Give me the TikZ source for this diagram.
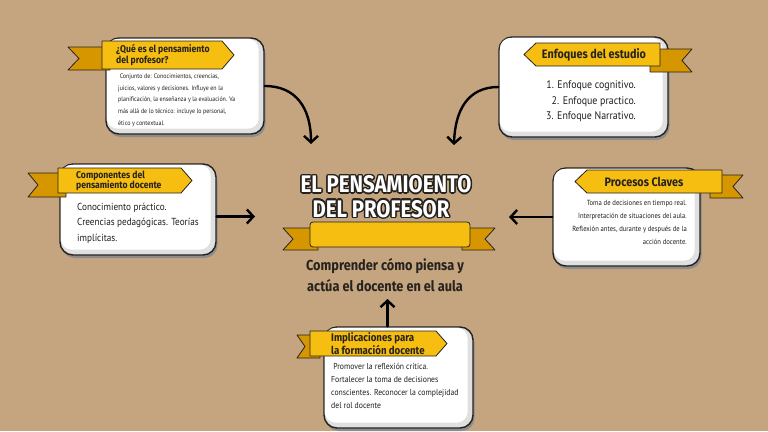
\documentclass[tikz,border=0pt]{standalone}
\usepackage{fontspec}
\setmainfont{PT Sans}
\newfontfamily\bodyfont[FakeStretch=0.9]{PT Sans}
\newfontfamily\headfont[FakeStretch=0.88]{Fira Sans}
\newfontfamily\titlefont[FakeStretch=0.85]{Fira Sans}
\usepackage[copies]{contour}
\contourlength{1.4pt}
\usetikzlibrary{arrows.meta,fit}
\definecolor{kraft}{RGB}{197,165,127}
\definecolor{ribbon}{RGB}{246,190,16}
\definecolor{ribbondark}{RGB}{214,150,0}
\definecolor{ink}{RGB}{38,34,30}
\definecolor{bodyink}{RGB}{30,30,30}
\tikzset{
  paper/.style={draw=ink, line width=1.4pt, fill=black!12, rounded corners=13pt, inner sep=0pt},
  ribbonbody/.style={fill=ribbon, draw=ink, line width=0.8pt, line join=round},
  ribbontail/.style={fill=ribbondark, draw=ink, line width=0.8pt, line join=round},
  headtxt/.style={text=ink, font=\headfont\bfseries\fontsize{9.8}{10.5}\selectfont, align=left, inner sep=0pt},
  bodytxt/.style={text=bodyink, inner sep=0pt},
  arr/.style={draw=black, line width=2.4pt, line cap=round, -{Straight Barb[length=6.5pt,width=14pt,line width=2.4pt]}},
}
\begin{document}
\begin{tikzpicture}[x=1pt,y=-1pt]
\fill[kraft] (0,0) rectangle (768,431);
\useasboundingbox (0,0) rectangle (768,431);

% ---------- boxes ----------
\foreach \nm/\xa/\ya/\xb/\yb in {b1/106/38/264/134, b2/499/37/668/137, b3/60/164/216/255, b4/553/168/700/266, b5/324/327/473/428}{
  \fill[black!45, rounded corners=13pt] (\xa+1.5,\ya+3) rectangle (\xb+1.5,\yb+3);
  \node[paper, fit={(\xa,\ya) (\xb,\yb)}] (\nm) {};
  \fill[white, rounded corners=11pt] ([shift={(1.5pt,-1.5pt)}]\nm.north west) rectangle ([shift={(-6pt,6pt)}]\nm.south east);
}

% ---------- ribbons ----------
% top-left
\draw[ribbontail] (68,47) -- (110,47) -- (110,70) -- (68,70) -- (79,58.5) -- cycle;
\draw[ribbonbody] (102,41) -- (222,41) -- (234,55) -- (222,69) -- (102,69) -- cycle;
\node[headtxt, anchor=west] (h1) at (116,55) {¿Qué es el pensamiento\\del profesor?};
% top-right
\draw[ribbontail] (650,49) -- (692,49) -- (682,60.5) -- (692,72) -- (650,72) -- cycle;
\draw[ribbonbody] (524,54.5) -- (536,43) -- (660,43) -- (660,66) -- (536,66) -- cycle;
\node[headtxt, font=\headfont\bfseries\fontsize{12.3}{13}\selectfont] (h2) at (594,54.5) {Enfoques del estudio};
% left middle
\draw[ribbontail] (28,173) -- (66,173) -- (66,197) -- (28,197) -- (38,185) -- cycle;
\draw[ribbonbody] (58,168) -- (181,168) -- (192,180.5) -- (181,193) -- (58,193) -- cycle;
\node[headtxt, anchor=west] (h3) at (76,181) {Componentes del\\pensamiento docente};
% right middle
\draw[ribbontail] (710,175) -- (743,175) -- (733,186.5) -- (743,198) -- (710,198) -- cycle;
\draw[ribbonbody] (575,181.5) -- (587,170) -- (722,170) -- (722,193) -- (587,193) -- cycle;
\node[headtxt, font=\headfont\bfseries\fontsize{12.3}{13}\selectfont] (h4) at (644,181.5) {Procesos Claves};
% bottom
\draw[ribbontail] (297,335) -- (320,335) -- (320,358) -- (297,358) -- (305,346.5) -- cycle;
\draw[ribbonbody] (310,331) -- (436,331) -- (447,343.5) -- (436,356) -- (310,356) -- cycle;
\node[headtxt, anchor=west, font=\headfont\bfseries\fontsize{11}{10.8}\selectfont] (h5) at (331,343.5) {Implicaciones para\\la formación docente};

% ---------- body texts ----------
\node[bodytxt, anchor=north west, align=left, font=\bodyfont\fontsize{6.6}{11.7}\selectfont] (t1) at (118,73.5)
 {\ Conjunto de: Conocimientos, creencias,\\juicios, valores y decisiones. Influye en la\\planificación, la enseñanza y la evaluación. Va\\más allá de lo técnico: incluye lo personal,\\ético y contextual.};
\node[bodytxt, anchor=north east, align=right, font=\bodyfont\fontsize{11}{15.5}\selectfont] (t2) at (636,80.5)
 {1. Enfoque cognitivo.\\2. Enfoque practico.\\3. Enfoque Narrativo.};
\node[bodytxt, anchor=north west, align=left, font=\bodyfont\fontsize{10.2}{15.8}\selectfont] (t3) at (77,202.5)
 {Conocimiento práctico.\\Creencias pedagógicas. Teorías\\implícitas.};
\node[bodytxt, anchor=north east, align=right, font=\bodyfont\fontsize{7.4}{13}\selectfont] (t4) at (687,200.5)
 {Toma de decisiones en tiempo real.\\Interpretación de situaciones del aula.\\Reflexión antes, durante y después de la\\acción docente.};
\node[bodytxt, anchor=north west, align=left, font=\bodyfont\fontsize{8.6}{13}\selectfont] (t5) at (331,363.5)
 {\ Promover la reflexión crítica.\\Fortalecer la toma de decisiones\\conscientes. Reconocer la complejidad\\del rol docente};

% ---------- centre ----------
\draw[ribbontail] (283,228) -- (318,228) -- (318,250) -- (283,250) -- (293,239) -- cycle;
\draw[ribbontail] (462,228) -- (495,228) -- (485,239) -- (495,250) -- (462,250) -- cycle;
\node[ribbonbody, rounded corners=3pt, inner sep=0pt, fit={(310,222) (470,247)}] (mainrib) {};
\node[text=white, font=\titlefont\bfseries\fontsize{24}{26}\selectfont, inner sep=0pt] (title1) at (386,185) {\contour{ink}{EL PENSAMIOENTO}};
\node[text=white, font=\titlefont\bfseries\fontsize{24}{26}\selectfont, inner sep=0pt] (title2) at (381,209.5) {\contour{ink}{DEL PROFESOR}};
\node[text=ink, font=\headfont\bfseries\fontsize{14.5}{21}\selectfont, align=center, inner sep=0pt] (sub) at (385,275.5) {Comprender cómo piensa y\\actúa el docente en el aula};

% ---------- arrows ----------
\coordinate (e1) at (311,144);
\coordinate (e2) at (454,145);
\coordinate (e3) at (255,216.5);
\coordinate (e4) at (509,217);
\coordinate (e5) at (387.5,299);
\draw[arr] (b1.east) .. controls (296,86) and (311,108) .. (e1);
\draw[arr] (b2.west) .. controls (468,87) and (455,110) .. (e2);
\draw[arr] ([yshift=-7pt]b3.east) -- (e3);
\draw[arr] (b4.west) -- (e4);
\draw[arr] ([xshift=-11pt]b5.north) -- (e5);
\end{tikzpicture}
\end{document}
